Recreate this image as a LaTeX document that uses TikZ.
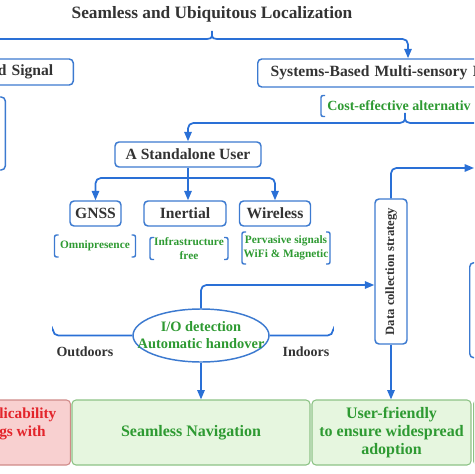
\documentclass[tikz,border=0pt]{standalone}
\usepackage{fontspec}
\setmainfont{Liberation Serif}
\usetikzlibrary{arrows.meta,calc,shapes.geometric}

\definecolor{lineblue}{HTML}{2A70D6}
\definecolor{boxblue}{HTML}{3C7AD0}
\definecolor{notegreen}{HTML}{2E9A32}
\definecolor{darktext}{HTML}{333333}
\definecolor{navfill}{HTML}{E6F6DF}
\definecolor{navline}{HTML}{8DC386}
\definecolor{warnfill}{HTML}{F8D0D0}
\definecolor{warnline}{HTML}{D08A88}
\definecolor{warnred}{HTML}{E3242B}

\tikzset{
  conn/.style={line width=1.3pt, draw=lineblue, rounded corners=4pt, -{Triangle[length=7pt,width=5.5pt]}},
  link/.style={line width=1.3pt, draw=lineblue, rounded corners=4pt},
  cusp/.style={line width=1.3pt, draw=lineblue},
  bluebox/.style={draw=boxblue, line width=1.1pt, rounded corners=3pt, fill=white, text=darktext, font=\bfseries\fontsize{11.7}{13}\selectfont, inner sep=0pt},
  titletext/.style={text=darktext, font=\bfseries\fontsize{13}{15}\selectfont, inner sep=0pt},
  sidetext/.style={text=darktext, font=\bfseries\fontsize{10.5}{12}\selectfont, inner sep=0pt},
  datatext/.style={text=darktext, font=\bfseries\fontsize{9.5}{11}\selectfont, inner sep=0pt},
  notetext/.style={text=notegreen, font=\bfseries\fontsize{8.5}{10.5}\selectfont, align=center, inner sep=0pt},
  costtext/.style={text=notegreen, font=\bfseries\fontsize{10.5}{12}\selectfont, inner sep=0pt},
  brk/.style={draw=boxblue, line width=1.1pt, rounded corners=1.5pt},
  ioshape/.style={ellipse, draw=boxblue, line width=1.1pt, fill=white, inner sep=0pt},
  iotext/.style={text=notegreen, font=\bfseries\fontsize{10.8}{12.75}\selectfont, align=center, inner sep=0pt},
  goalbox/.style={draw=navline, fill=navfill, line width=0.8pt, rounded corners=3pt, text=notegreen, font=\bfseries\fontsize{12}{13.5}\selectfont, align=center, inner sep=0pt},
  warnbox/.style={draw=warnline, fill=warnfill, line width=0.8pt, rounded corners=3pt, inner sep=0pt},
  warntext/.style={text=warnred, font=\bfseries\fontsize{11.5}{13.5}\selectfont, inner sep=0pt}
}

\begin{document}
\begin{tikzpicture}[x=0.75pt,y=-0.75pt]
\useasboundingbox (0,0) rectangle (474,474);
\clip (0,0) rectangle (474,474);

% top level
\node[titletext] (ttl) at (212,14) {Seamless and Ubiquitous Localization};
\node[bluebox, anchor=east, text width=60pt, align=right, inner xsep=15pt, minimum height=19.5pt] (sig) at (74,72) {d Signal};
\node[bluebox, anchor=east, minimum width=30pt, minimum height=54.75pt] (sigsub) at (6,133.5) {};
\node[bluebox, anchor=west, text width=205pt, align=left, inner xsep=9.75pt, minimum height=21pt] (multi) at (257,73) {Systems-Based Multi-sensory I};
\node[costtext, anchor=west] (cost) at (327,106) {Cost-effective alternativ};

% a standalone user
\node[bluebox, minimum width=109.5pt, minimum height=18.75pt] (user) at (188,154.5) {A Standalone User};
\node[bluebox, minimum width=38.25pt, minimum height=18.75pt] (gnss) at (95.5,213.5) {GNSS};
\node[bluebox, minimum width=61.5pt, minimum height=18.75pt] (inertial) at (185,213.5) {Inertial};
\node[bluebox, minimum width=53.25pt, minimum height=18.75pt] (wireless) at (275,213.5) {Wireless};
\node[notetext] (omni) at (95,246) {Omnipresence};
\node[notetext] (infra) at (189,248.5) {Infrastructure\\free};
\node[notetext] (perv) at (286,248) {Pervasive signals\\WiFi \& Magnetic};

% data collection and detection
\node[bluebox, minimum width=24pt, minimum height=108.75pt] (data) at (391,271.5) {};
\node[datatext, rotate=90] (datatxt) at (data) {Data collection strategy};
\node[bluebox, anchor=north west, minimum width=75pt, minimum height=71.25pt] (side) at (469,262) {};
\node[ioshape, minimum width=102pt, minimum height=39.75pt] (io) at (201,335.5) {};
\node[iotext] (iotxt) at (io) {I/O detection\\Automatic handover};
\node[sidetext] (outdoor) at (85,352) {Outdoors};
\node[sidetext] (indoor) at (306,352) {Indoors};

% goals
\node[warnbox, anchor=east, minimum width=105pt, minimum height=48.75pt] (warn) at (71,432.5) {};
\node[warntext, anchor=west, align=left] (warntxt) at (-1,424) {licability\\gs with};
\node[goalbox, minimum width=178.5pt, minimum height=48.75pt] (nav) at (191,432.5) {Seamless Navigation};
\node[goalbox, minimum width=119.25pt, minimum height=48.75pt] (friendly) at (391.5,432.5) {User-friendly\\to ensure widespread\\adoption};
\node[goalbox, anchor=west, minimum width=90pt, minimum height=48.75pt] (nextgoal) at (473,432.5) {};

% brackets
\foreach \n/\w/\h in {omni/40.5/11, infra/39/11, perv/44/16}{
  \draw[brk] ($(\n)+(-\w+4,-\h)$) -- ($(\n)+(-\w,-\h)$) -- ($(\n)+(-\w,\h)$) -- ($(\n)+(-\w+4,\h)$);
  \draw[brk] ($(\n)+(\w-4,-\h)$) -- ($(\n)+(\w,-\h)$) -- ($(\n)+(\w,\h)$) -- ($(\n)+(\w-4,\h)$);
}
\draw[brk] ($(cost.west)+(-2,-10.5)$) -- ($(cost.west)+(-6,-10.5)$) -- ($(cost.west)+(-6,10.5)$) -- ($(cost.west)+(-2,10.5)$);

% connectors
\coordinate (topL) at (-10,39);
\coordinate (topTip) at (212,31);
\coordinate (topR) at (408,39);
\draw[cusp] (topL) -- (207,39) .. controls (210,39) and (212,38) .. (212,36) -- (topTip);
\draw[cusp] (212,36) .. controls (212,38) and (214,39) .. (217,39) -- (402,39);
\draw[conn] (400,39) -- (topR) -- (topR |- multi.north);

\coordinate (costTip) at (405,113);
\coordinate (userTurn) at (188,123);
\draw[cusp] (costTip) -- (405,119) .. controls (405,121) and (407,123) .. (410,123) -- (490,123);
\draw[cusp] (405,119) .. controls (405,121) and (403,123) .. (400,123) -- (196,123);
\draw[conn] (198,123) -- (userTurn) -- (user.north);

\coordinate (splitU) at (188,178);
\draw[link] (user.south) -- (splitU);
\draw[conn] (splitU) -| (gnss.north);
\draw[conn] (splitU) -- (splitU |- inertial.north);
\draw[conn] (splitU) -| (wireless.north);

\coordinate (ioTurn) at (201,285);
\draw[conn] (io.north) -- (ioTurn) -- (ioTurn -| data.west);
\coordinate (dataOut) at (474,168);
\draw[conn] (data.north) |- (dataOut);
\draw[conn] (data.south) -- (data.south |- friendly.north);
\draw[conn] (io.south) -- (io.south |- nav.north);
\draw[link] (io.west) -| (53,331);
\draw[link] (io.east) -| (333,331);
\end{tikzpicture}
\end{document}
